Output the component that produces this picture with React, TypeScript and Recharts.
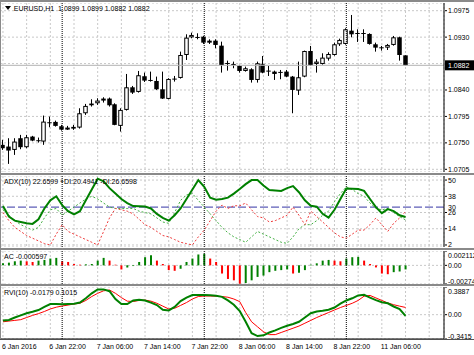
import React from "react";
import {
  ComposedChart,
  Bar,
  Line,
  XAxis,
  YAxis,
  CartesianGrid,
  ReferenceLine,
  Cell,
} from "recharts";

// ── Data ──────────────────────────────────────────────────────────────────────

// hourly bars, plus 6 empty slots of chart shift on the right
const times = [
  "6 Jan 14:00", "6 Jan 15:00", "6 Jan 16:00", "6 Jan 17:00", "6 Jan 18:00", "6 Jan 19:00", "6 Jan 20:00", "6 Jan 21:00", "6 Jan 22:00", "6 Jan 23:00",
  "7 Jan 00:00", "7 Jan 01:00", "7 Jan 02:00", "7 Jan 03:00", "7 Jan 04:00", "7 Jan 05:00", "7 Jan 06:00", "7 Jan 07:00", "7 Jan 08:00", "7 Jan 09:00",
  "7 Jan 10:00", "7 Jan 11:00", "7 Jan 12:00", "7 Jan 13:00", "7 Jan 14:00", "7 Jan 15:00", "7 Jan 16:00", "7 Jan 17:00", "7 Jan 18:00", "7 Jan 19:00",
  "7 Jan 20:00", "7 Jan 21:00", "7 Jan 22:00", "7 Jan 23:00",
  "8 Jan 00:00", "8 Jan 01:00", "8 Jan 02:00", "8 Jan 03:00", "8 Jan 04:00", "8 Jan 05:00", "8 Jan 06:00", "8 Jan 07:00", "8 Jan 08:00", "8 Jan 09:00",
  "8 Jan 10:00", "8 Jan 11:00", "8 Jan 12:00", "8 Jan 13:00", "8 Jan 14:00", "8 Jan 15:00", "8 Jan 16:00", "8 Jan 17:00", "8 Jan 18:00", "8 Jan 19:00",
  "8 Jan 20:00", "8 Jan 21:00", "8 Jan 22:00", "8 Jan 23:00",
  "11 Jan 00:00", "11 Jan 01:00", "11 Jan 02:00", "11 Jan 03:00", "11 Jan 04:00", "11 Jan 05:00", "11 Jan 06:00", "11 Jan 07:00", "11 Jan 08:00",
  "11 Jan 09:00", "11 Jan 10:00",
  "11 Jan 11:00", "11 Jan 12:00", "11 Jan 13:00", "11 Jan 14:00", "11 Jan 15:00", "11 Jan 16:00",
];

const open = [
  1.07466, 1.07437, 1.0738, 1.07579, 1.07426, 1.07607, 1.07545, 1.07522, 1.07851, 1.07857,
  1.07783, 1.07726, 1.07743, 1.0776, 1.08004, 1.0814, 1.08174, 1.0822, 1.08254, 1.08157,
  1.07789, 1.08061, 1.08446, 1.08367, 1.08634, 1.08571, 1.08554, 1.08412, 1.08248, 1.08583,
  1.08605, 1.08996, 1.09297, 1.09303, 1.09308, 1.09206, 1.0924, 1.09155, 1.0886, 1.08843,
  1.08809, 1.08724, 1.08753, 1.08571, 1.08838, 1.0873, 1.08713, 1.08708, 1.08713, 1.08628,
  1.0839, 1.08628, 1.09064, 1.08843, 1.08843, 1.08934, 1.08996, 1.09178, 1.09184, 1.0941,
  1.0937, 1.0937, 1.09354, 1.09178, 1.09127, 1.09121, 1.09167, 1.09297, 1.0899,
];
const high = [
  1.07551, 1.07579, 1.07579, 1.07636, 1.07636, 1.07619, 1.0759, 1.07965, 1.07947, 1.07879,
  1.07806, 1.07789, 1.07806, 1.08089, 1.08163, 1.08242, 1.08259, 1.08276, 1.08271, 1.08174,
  1.08089, 1.08673, 1.08469, 1.08724, 1.08696, 1.08713, 1.08628, 1.08713, 1.086, 1.08639,
  1.09053, 1.09348, 1.09376, 1.09365, 1.0932, 1.09263, 1.09263, 1.09223, 1.089, 1.08883,
  1.08826, 1.08798, 1.0877, 1.08883, 1.08979, 1.08809, 1.0873, 1.08741, 1.08741, 1.08639,
  1.08883, 1.0907, 1.0915, 1.08923, 1.09025, 1.09042, 1.09206, 1.09274, 1.0945, 1.09677,
  1.09433, 1.09433, 1.09365, 1.09206, 1.0915, 1.09184, 1.0932, 1.09308, 1.0899,
];
const low = [
  1.0738, 1.07142, 1.07295, 1.07392, 1.07409, 1.07528, 1.07505, 1.07466, 1.07766, 1.07777,
  1.07709, 1.07721, 1.07721, 1.07743, 1.07976, 1.08118, 1.08146, 1.08186, 1.08118, 1.078,
  1.07692, 1.0805, 1.08333, 1.08356, 1.08537, 1.08543, 1.08401, 1.08248, 1.08242, 1.08543,
  1.08594, 1.08911, 1.0928, 1.09263, 1.09184, 1.09184, 1.0911, 1.08696, 1.0873, 1.0877,
  1.08696, 1.08713, 1.08526, 1.08526, 1.08685, 1.08639, 1.08571, 1.08583, 1.08617, 1.08004,
  1.08316, 1.08617, 1.08809, 1.08696, 1.08832, 1.089, 1.08985, 1.0915, 1.09172, 1.09297,
  1.09218, 1.09218, 1.09172, 1.09053, 1.0907, 1.09081, 1.09155, 1.089, 1.0882,
];
const close = [
  1.07409, 1.07369, 1.07522, 1.07426, 1.07596, 1.07539, 1.07534, 1.07862, 1.0784, 1.07789,
  1.07726, 1.0776, 1.07772, 1.08004, 1.08129, 1.08169, 1.0822, 1.08254, 1.0814, 1.07806,
  1.08061, 1.08446, 1.08356, 1.08651, 1.0856, 1.08566, 1.08412, 1.08254, 1.08588, 1.08594,
  1.08996, 1.09291, 1.09337, 1.09291, 1.09206, 1.0924, 1.09167, 1.08826, 1.08849, 1.08832,
  1.08724, 1.0877, 1.08571, 1.08855, 1.08696, 1.08719, 1.08673, 1.08696, 1.08628, 1.08401,
  1.08617, 1.09064, 1.08821, 1.08883, 1.08951, 1.09013, 1.09178, 1.09252, 1.09433, 1.09348,
  1.0936, 1.0936, 1.09184, 1.09121, 1.09116, 1.09167, 1.09297, 1.08996, 1.0882,
];

const adx = [
  30.8, 23, 20, 19, 18, 17.6, 21, 29, 35, 38,
  31.5, 27, 24.7, 27, 35, 43, 51, 49, 44, 40,
  36, 33, 30.8, 30.6, 30.4, 29, 25, 22, 20, 24,
  29, 36, 43, 50, 45, 37, 35.5, 36, 37, 40,
  43.4, 47, 50, 50, 46, 42.6, 42.3, 42, 44, 45.5,
  41, 35, 31, 30.3, 25, 22.2, 28, 36, 43.8, 43.6,
  43.4, 42, 36, 30, 25.5, 28.5, 27, 24, 22.6599,
];
const plusDi = [
  28, 24, 20, 17, 15, 13, 15, 22, 28, 29,
  24, 27, 30, 33, 36, 38, 36, 33, 30, 29,
  29, 29, 29, 27, 26, 25, 22, 19, 18, 26,
  35, 39, 40, 35, 30, 25, 20, 15, 11, 8,
  6, 4, 8, 12, 10, 8, 6, 4, 3.2, 8,
  14, 17, 17, 20, 24, 27, 34, 40, 45, 43,
  40, 38, 33, 29, 28, 29, 26, 23, 20.4941,
];
const minusDi = [
  26, 20, 15, 12, 9, 7, 5, 3, 2, 10,
  17, 12, 10, 8, 6, 4, 2, 12, 22, 29,
  28, 27, 25, 21, 17, 15, 12, 9, 8, 6,
  4, 3, 2, 8, 13, 20, 27, 31.5, 29, 31,
  31, 33, 28, 23, 22, 19, 20, 22, 24, 30,
  24, 17, 27, 23, 19, 15, 11, 8, 7, 10,
  13, 13, 17, 22, 17, 12, 18, 22, 26.6598,
];

const ac = [
  0.0003, 0.0004, 0.0006, 0.0007, 0.0006, 0.0005, 0.0007, 0.0008, 0.001, 0.0011,
  0.0006, 0.0005, 0.0002, 0.0001, 0.00015, 0.0002, 0.0007, 0.0011, 0.0007, 0.0001,
  -0.0006, -0.0003, -0.0001, 0.0005, 0.0012, 0.0015, 0.0007, 0.0002, -0.0007, -0.0008,
  -0.0005, 0.0005, 0.001, 0.0016, 0.0017, 0.001, 0.0005, -0.0012, -0.002, -0.0022,
  -0.0027, -0.0026, -0.0022, -0.0017, -0.0015, -0.001, -0.0008, -0.0007, -0.0006, -0.0012,
  -0.0011, -0.0007, 0.0001, 0.0003, 0.0007, 0.0008, 0.0007, 0.0006, 0.001, 0.0012,
  0.00125, 0.0007, 0.0002, -0.0003, -0.0012, -0.0013, -0.001, -0.0009, -0.000597,
];

const rviMain = [
  -0.08, -0.075, -0.04, -0.01, 0.02, 0.04, 0.065, 0.11, 0.15, 0.15,
  0.145, 0.15, 0.155, 0.17, 0.23, 0.3, 0.355, 0.355, 0.33, 0.22,
  0.15, 0.15, 0.2, 0.21, 0.2, 0.17, 0.135, 0.07, 0.06, 0.11,
  0.19, 0.24, 0.275, 0.278, 0.276, 0.272, 0.265, 0.25, 0.2, 0.14,
  0.05, -0.1, -0.26, -0.3, -0.29, -0.25, -0.22, -0.185, -0.155, -0.13,
  -0.1, -0.04, 0.02, 0.045, 0.056, 0.07, 0.1, 0.155, 0.2, 0.23,
  0.27, 0.28, 0.24, 0.205, 0.175, 0.16, 0.115, 0.08, -0.0179,
];
const rviSignal = [
  -0.1, -0.09, -0.08, -0.07, -0.04, -0.01, 0.015, 0.045, 0.08, 0.105,
  0.122, 0.135, 0.15, 0.16, 0.2, 0.255, 0.3, 0.335, 0.346, 0.3,
  0.24, 0.19, 0.185, 0.2, 0.205, 0.19, 0.16, 0.12, 0.08, 0.09,
  0.13, 0.17, 0.22, 0.255, 0.262, 0.262, 0.26, 0.255, 0.245, 0.22,
  0.183, 0.03, -0.1, -0.17, -0.24, -0.28, -0.28, -0.25, -0.22, -0.19,
  -0.16, -0.12, -0.08, -0.04, -0.005, 0.03, 0.066, 0.1, 0.13, 0.16,
  0.2, 0.26, 0.27, 0.235, 0.2, 0.165, 0.14, 0.12, 0.1015,
];

// axis ticks and labels
const gridTicks = [
  "6 Jan 14:00", "6 Jan 18:00", "6 Jan 22:00", "7 Jan 02:00", "7 Jan 06:00", "7 Jan 10:00", "7 Jan 14:00",
  "7 Jan 18:00", "7 Jan 22:00", "8 Jan 02:00", "8 Jan 06:00", "8 Jan 10:00", "8 Jan 14:00", "8 Jan 18:00",
  "8 Jan 22:00", "11 Jan 02:00", "11 Jan 06:00", "11 Jan 10:00", "11 Jan 14:00",
];
const timeLabelTicks = [
  "6 Jan 14:00", "6 Jan 22:00", "7 Jan 06:00", "7 Jan 14:00", "7 Jan 22:00",
  "8 Jan 06:00", "8 Jan 14:00", "8 Jan 22:00", "11 Jan 06:00",
];
const timeLabelText = [
  "6 Jan 2016", "6 Jan 22:00", "7 Jan 06:00", "7 Jan 14:00", "7 Jan 22:00",
  "8 Jan 06:00", "8 Jan 14:00", "8 Jan 22:00", "11 Jan 06:00",
];
const daySeparators = ["7 Jan 00:00", "8 Jan 00:00", "11 Jan 00:00"];

const priceTicks = [1.0975, 1.093, 1.0885, 1.084, 1.0795, 1.075, 1.0705];
const adxTicks = [50, 38, 26, 14, 2];
const adxLevel = 30;
const acTicks = [0.002112, 0, -0.00274];
const rviTicks = [0.3887, 0, -0.3415];

// ── Styles ────────────────────────────────────────────────────────────────────

const FONT = "'Liberation Sans', Arial, sans-serif";
const FS = 7;
const W = 474;
const AXIS_W = 30;
const GRID = "#c8c8c8";
const FRAME = "#8a8a8a";
const GREEN = "#008000";
const RED = "#ff0000";
const TICK = { fontFamily: FONT, fontSize: FS, fill: "#000" };
const MARGIN = { top: 0, right: 0, bottom: 0, left: 0 };

const data = times.map((t, i) => ({
  t,
  o: open[i],
  h: high[i],
  l: low[i],
  c: close[i],
  adx: adx[i],
  pdi: plusDi[i],
  mdi: minusDi[i],
  ac: ac[i],
  rvi: rviMain[i],
  sig: rviSignal[i],
}));

const last = open.length - 1;

// ── Shapes ────────────────────────────────────────────────────────────────────

function Candle(props: any) {
  const { x, y, width, height, payload } = props;
  if (payload.h == null || !height) return null;
  const k = height / (payload.h - payload.l);
  const cx = Math.floor(x + width / 2) + 0.5;
  const top = y + (payload.h - Math.max(payload.o, payload.c)) * k;
  const bot = y + (payload.h - Math.min(payload.o, payload.c)) * k;
  const bull = payload.c >= payload.o;
  const bh = Math.max(1, bot - top);
  return (
    <g>
      <line x1={cx} x2={cx} y1={y} y2={y + height} stroke="#000" strokeWidth={1} />
      <rect x={cx - 2.25} y={top} width={4.5} height={bh} fill="#000" />
      {bull && bh > 2 && <rect x={cx - 1.25} y={top + 1} width={2.5} height={bh - 2} fill="#fff" />}
    </g>
  );
}

function PriceTag({ viewBox }: any) {
  if (!viewBox) return null;
  const { x, y, width } = viewBox;
  return (
    <g>
      <rect x={x + width + 1} y={y - 5} width={AXIS_W - 1} height={10} fill="#000" />
      <text x={x + width + 4} y={y + 2.5} fill="#fff" fontFamily={FONT} fontSize={FS}>
        {close[last].toFixed(4)}
      </text>
    </g>
  );
}

function LevelTag({ viewBox }: any) {
  if (!viewBox) return null;
  const { x, y, width } = viewBox;
  return (
    <text x={x + width + 4} y={y + 2.5} fill="#000" fontFamily={FONT} fontSize={FS}>
      {adxLevel}
    </text>
  );
}

// right-axis tick: small dash then the value; top/bottom values kept inside the pane
function EdgeTick(fmt: (v: number) => string, lo: number, hi: number) {
  return (p: any) => {
    const v = p.payload.value;
    const dy = v === hi ? 4 : v === lo ? -3 : 0;
    return (
      <g>
        <line x1={p.x + 1} x2={p.x + 3} y1={p.y} y2={p.y} stroke="#000" />
        <text x={p.x + 4} y={p.y + dy + 2.5} {...TICK}>{fmt(v)}</text>
      </g>
    );
  };
}

function TimeTick(p: any) {
  const idx = timeLabelTicks.indexOf(p.payload.value);
  if (idx < 0) return <g />;
  return (
    <text x={p.x - 1} y={p.y + 2} {...TICK}>{timeLabelText[idx]}</text>
  );
}

const xAxisHidden = (
  <XAxis dataKey="t" hide scale="band" ticks={gridTicks} interval={0} />
);

const sepLines = daySeparators.map((d) => (
  <ReferenceLine key={d} x={d} stroke="#000" strokeDasharray="1 1" strokeWidth={1} />
));

const yAxisBase = {
  orientation: "right" as const,
  width: AXIS_W,
  interval: 0 as const,
  tickSize: 0,
  tickMargin: 0,
  tickLine: false,
  axisLine: { stroke: "#000" },
};

// ── Panels ────────────────────────────────────────────────────────────────────

function Label({ top, children }: { top: number; children: React.ReactNode }) {
  return (
    <div
      style={{
        position: "absolute",
        left: 4,
        top,
        fontFamily: FONT,
        fontSize: FS,
        lineHeight: "9px",
        whiteSpace: "pre",
        color: "#000",
      }}
    >
      {children}
    </div>
  );
}

function HLine({ top, h, color }: { top: number; h: number; color: string }) {
  return <div style={{ position: "absolute", left: 0, top, width: W, height: h, background: color }} />;
}

export default function App() {
  return (
    <div style={{ position: "absolute", left: 0, top: 0, width: W, height: 355, background: "#fff", overflow: "hidden" }}>
      {/* main price panel */}
      <div style={{ position: "absolute", left: 0, top: 3 }}>
        <ComposedChart width={W} height={169} data={data} margin={MARGIN} barCategoryGap={0}>
          <CartesianGrid stroke={GRID} strokeDasharray="2 2" />
          {xAxisHidden}
          <YAxis
            {...yAxisBase}
            domain={[1.07004, 1.09881]}
            ticks={priceTicks}
            allowDataOverflow
            tick={EdgeTick((v) => (v === 1.0885 ? "" : v.toFixed(4)), -1, -1)}
          />
          {sepLines}
          <ReferenceLine y={close[last]} stroke="#b4b4b4" label={<PriceTag />} />
          <Bar
            dataKey={(d: any) => (d.h == null ? null : [d.l, d.h])}
            shape={<Candle />}
            barSize={5}
            isAnimationActive={false}
          />
        </ComposedChart>
      </div>

      {/* ADX */}
      <div style={{ position: "absolute", left: 0, top: 176 }}>
        <ComposedChart width={W} height={71} data={data} margin={MARGIN}>
          <CartesianGrid stroke={GRID} strokeDasharray="2 2" />
          {xAxisHidden}
          <YAxis
            {...yAxisBase}
            domain={[0.5, 53]}
            ticks={adxTicks}
            tick={EdgeTick((v) => String(v), -1, -1)}
          />
          {sepLines}
          <ReferenceLine y={adxLevel} stroke="#3535a5" strokeDasharray="8 3" label={<LevelTag />} />
          <Line dataKey="pdi" stroke="#44b044" strokeWidth={1} strokeDasharray="2 2" dot={false} isAnimationActive={false} />
          <Line dataKey="mdi" stroke="#f03c3c" strokeWidth={1} strokeDasharray="2 2" dot={false} isAnimationActive={false} />
          <Line dataKey="adx" stroke={GREEN} strokeWidth={2} dot={false} isAnimationActive={false} />
        </ComposedChart>
      </div>

      {/* AC */}
      <div style={{ position: "absolute", left: 0, top: 251 }}>
        <ComposedChart width={W} height={33} data={data} margin={MARGIN}>
          <CartesianGrid stroke={GRID} strokeDasharray="2 2" />
          {xAxisHidden}
          <YAxis
            {...yAxisBase}
            domain={[-0.00274, 0.002112]}
            ticks={acTicks}
            allowDataOverflow
            tick={EdgeTick((v) => (v === 0 ? "0.00" : String(v)), -0.00274, 0.002112)}
          />
          {sepLines}
          <Bar dataKey="ac" barSize={2} isAnimationActive={false}>
            {data.map((d, i) => (
              <Cell key={i} fill={i > 0 && (d.ac ?? 0) < (data[i - 1].ac ?? 0) ? RED : GREEN} />
            ))}
          </Bar>
        </ComposedChart>
      </div>

      {/* RVI + time axis */}
      <div style={{ position: "absolute", left: 0, top: 287 }}>
        <ComposedChart width={W} height={68} data={data} margin={MARGIN}>
          <CartesianGrid stroke={GRID} strokeDasharray="2 2" />
          <XAxis
            dataKey="t"
            scale="band"
            ticks={gridTicks}
            interval={0}
            height={16}
            tick={TimeTick}
            tickLine={false}
            axisLine={{ stroke: "#000" }}
          />
          <YAxis
            {...yAxisBase}
            domain={[-0.3415, 0.3887]}
            ticks={rviTicks}
            allowDataOverflow
            tick={EdgeTick((v) => (v === 0 ? "0.00" : String(v)), -0.3415, 0.3887)}
          />
          {sepLines}
          <Line dataKey="sig" stroke={RED} strokeWidth={1} dot={false} isAnimationActive={false} />
          <Line dataKey="rvi" stroke={GREEN} strokeWidth={2} dot={false} isAnimationActive={false} />
        </ComposedChart>
      </div>

      {/* frame */}
      <HLine top={0} h={2} color={FRAME} />
      <HLine top={173} h={2} color={FRAME} />
      <HLine top={248} h={2} color={FRAME} />
      <HLine top={284} h={2} color={FRAME} />
      <HLine top={339} h={1} color="#505050" />
      <div style={{ position: "absolute", left: 0, top: 0, width: 1, height: 339, background: FRAME }} />

      {/* panel captions */}
      <svg style={{ position: "absolute", left: 5, top: 6 }} width={6} height={5}>
        <polygon points="0,0 6,0 3,4" fill="#000" />
      </svg>
      <Label top={4}>
        {`     EURUSD,H1  ${open[last].toFixed(4)} ${high[last].toFixed(4)} ${low[last].toFixed(4)} ${close[last].toFixed(4)}`}
      </Label>
      <Label top={177}>
        {`ADX(10) ${adx[last].toFixed(4)} +DI:${plusDi[last].toFixed(4)} -DI:${minusDi[last].toFixed(4)}`}
      </Label>
      <Label top={252}>{`AC ${ac[last].toFixed(6)}`}</Label>
      <Label top={288}>{`RVI(10) ${rviMain[last].toFixed(4)} ${rviSignal[last].toFixed(4)}`}</Label>
    </div>
  );
}
